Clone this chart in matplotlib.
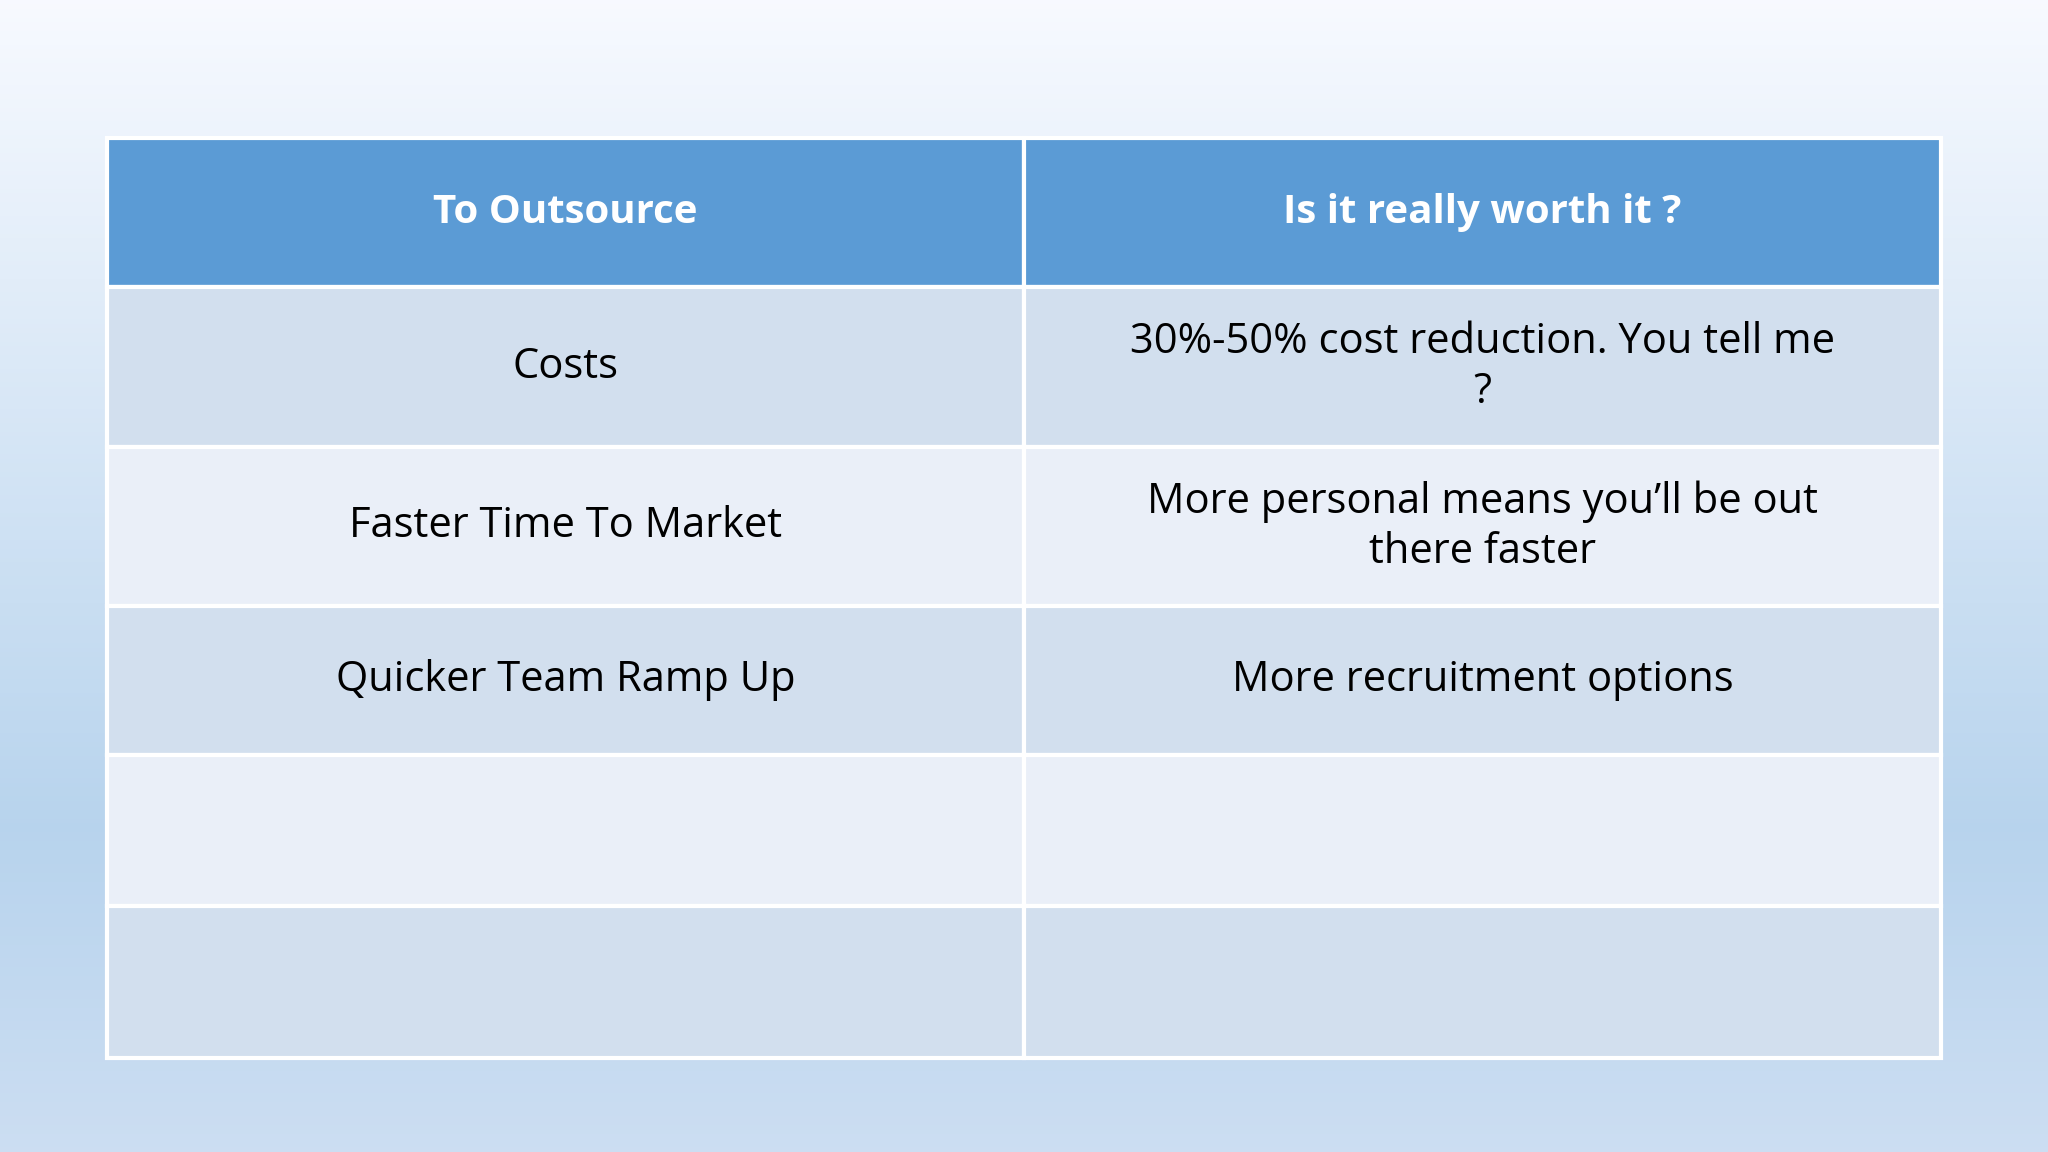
import matplotlib
matplotlib.use("Agg")
import matplotlib.pyplot as plt
import numpy as np
from matplotlib.patches import Rectangle

headers = ["To Outsource", "Is it really worth it ?"]
left_col = ["Costs", "Faster Time To Market", "Quicker Team Ramp Up", "", ""]
right_col = ["30%-50% cost reduction. You tell me\n?",
             "More personal means you\u2019ll be out\nthere faster",
             "More recruitment options", "", ""]

W, H = 1568, 882
fig = plt.figure(figsize=(20.48, 11.52), dpi=100)
ax = fig.add_axes([0, 0, 1, 1])
ax.set_xlim(0, W); ax.set_ylim(H, 0); ax.axis("off")

# background gradient
t = np.linspace(0, 1, 256)
top = np.array([0.97, 0.98, 1.0]); mid = np.array([0.72, 0.83, 0.93]); bot = np.array([0.80, 0.87, 0.95])
cols = np.array([top + (mid - top) * min(v / 0.72, 1) if v < 0.72 else mid + (bot - mid) * (v - 0.72) / 0.28 for v in t])
grad = np.repeat(cols[:, None, :], 2, axis=1)
ax.imshow(grad, extent=[0, W, H, 0], aspect="auto", zorder=0)

xs = [82, 784, 1486]
ys = [106, 220, 342, 464, 578, 694, 810]
font = "Open Sans"
for c in range(2):
    ax.add_patch(Rectangle((xs[c], ys[0]), xs[c+1]-xs[c], ys[1]-ys[0], fc="#5b9bd5", ec="white", lw=3, zorder=1))
    ax.text((xs[c]+xs[c+1])/2, (ys[0]+ys[1])/2, headers[c], ha="center", va="center",
            color="white", fontsize=29, fontweight="bold", family=font, zorder=3)
for r in range(5):
    fc = "#d2dfee" if r % 2 == 0 else "#eaeff8"
    for c, col in enumerate([left_col, right_col]):
        ax.add_patch(Rectangle((xs[c], ys[r+1]), xs[c+1]-xs[c], ys[r+2]-ys[r+1], fc=fc, ec="white", lw=3, zorder=1))
        ax.text((xs[c]+xs[c+1])/2, (ys[r+1]+ys[r+2])/2, col[r], ha="center", va="center",
                color="black", fontsize=30, family=font, linespacing=1.25, zorder=3)
fig.savefig("out.png", dpi=100)
